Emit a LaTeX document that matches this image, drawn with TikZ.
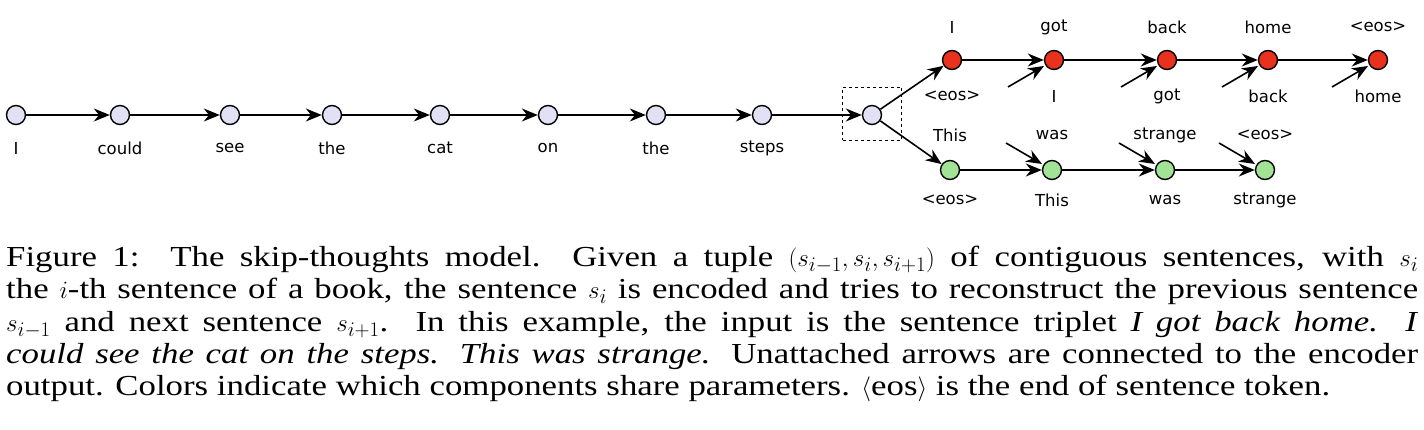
\documentclass[tikz,border=0pt]{standalone}
\usepackage{fontspec}
\setmainfont[FakeStretch=1.2]{Liberation Serif}
\newfontfamily\djsans{DejaVu Sans}
\usetikzlibrary{arrows.meta,calc}
\definecolor{enc}{HTML}{E2E0F4}
\definecolor{dred}{HTML}{E8321E}
\definecolor{dgreen}{HTML}{A2E496}
\tikzset{
  x=1pt,y=-1pt,
  unit/.style={circle,draw,line width=1.4pt,minimum size=19pt,inner sep=0pt},
  lbl/.style={font=\djsans\fontsize{16.5}{18}\selectfont,inner sep=0pt},
  arr/.style={line width=1.6pt,-{Stealth[length=16pt,width=13pt]}},
}
\begin{document}
\begin{tikzpicture}
\useasboundingbox (0,0) rectangle (1424,430);
% encoder
\foreach \n/\x/\w in {1/16/I,2/120/could,3/230/see,4/332/the,5/440/cat,6/548/on,7/656/the,8/762/steps}{
  \node[unit,fill=enc] (e\n) at (\x,115) {};
  \node[lbl] (el\n) at (\x,148) {\w};
}
\node[unit,fill=enc] (e9) at (872,115) {};
\foreach \a/\b in {1/2,2/3,3/4,4/5,5/6,6/7,7/8,8/9}{\draw[arr] (e\a) -- (e\b);}
\node[draw,dashed,line width=1.4pt,minimum width=59pt,minimum height=53pt] (box) at (872,114) {};
% red decoder
\foreach \n/\x/\t/\b in {1/952/I/<eos>,2/1054/got/I,3/1167/back/got,4/1268/home/back,5/1378/<eos>/home}{
  \node[unit,fill=dred] (r\n) at (\x,60) {};
  \node[lbl] (rt\n) at (\x,27) {\t};
  \node[lbl] (rb\n) at (\x,96) {\b};
}
\foreach \n/\x/\t/\b in {1/950/This/<eos>,2/1052/was/This,3/1165/strange/was,4/1265/<eos>/strange}{
  \node[unit,fill=dgreen] (g\n) at (\x,170) {};
  \node[lbl] (gt\n) at (\x,135) {\t};
  \node[lbl] (gb\n) at (\x,200) {\b};
}
\draw[arr] (e9) -- (r1);
\draw[arr] (e9) -- (g1);
\foreach \a/\b in {1/2,2/3,3/4,4/5}{\draw[arr] (r\a) -- (r\b);}
\foreach \a/\b in {1/2,2/3,3/4}{\draw[arr] (g\a) -- (g\b);}
\foreach \n in {2,3,4,5}{
  \coordinate (ru\n) at ($(r\n)+(-46,27)$);
  \draw[arr] (ru\n) -- ($(r\n)+(-10,6)$);
}
\foreach \n in {2,3,4}{
  \coordinate (gu\n) at ($(g\n)+(-46,-27)$);
  \draw[arr] (gu\n) -- ($(g\n)+(-10,-6)$);
}
% caption
\node[anchor=north west,text width=1412pt,align=justify,inner sep=0pt,font=\fontsize{29}{32.2}\selectfont] (cap) at (6,246) {%
Figure 1:\ \ The skip-thoughts model. Given a tuple $(s_{i-1},s_i,s_{i+1})$ of contiguous sentences, with $s_i$\linebreak
the $i$-th sentence of a book, the sentence $s_i$ is encoded and tries to reconstruct the previous sentence\linebreak
$s_{i-1}$ and next sentence $s_{i+1}$. In this example, the input is the sentence triplet \textit{I got back home. I}\linebreak
\textit{could see the cat on the steps. This was strange.} Unattached arrows are connected to the encoder\linebreak
output. Colors indicate which components share parameters. $\langle$eos$\rangle$ is the end of sentence token.};
\end{tikzpicture}
\end{document}
